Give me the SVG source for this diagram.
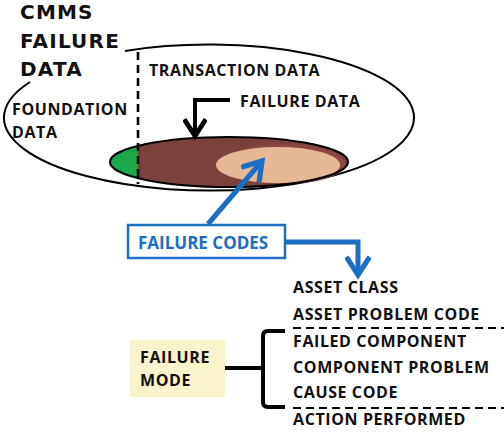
<svg xmlns="http://www.w3.org/2000/svg" width="504" height="434" viewBox="0 0 504 434">
<style>
.t{font-family:"Open Sans","Liberation Sans",sans-serif;font-weight:bold;font-size:16px;letter-spacing:0.6px;fill:#111}
.big{font-family:"DejaVu Sans",sans-serif;font-weight:bold;font-size:20px;fill:#111;letter-spacing:1.2px}
.blue{fill:#1b6ec2}
.k{fill:none;stroke:#000;stroke-width:2}
.dash{fill:none;stroke:#000;stroke-width:2;stroke-dasharray:8 5}
</style>
<defs>
<marker id="hk" viewBox="0 0 10 10" refX="8" refY="5" markerWidth="24" markerHeight="24" markerUnits="userSpaceOnUse" orient="auto">
<path d="M1 0.5 L8 5 L1 9.5" fill="none" stroke="#000" stroke-width="2"/>
</marker>
<marker id="hb" viewBox="0 0 10 10" refX="8" refY="5" markerWidth="26" markerHeight="26" markerUnits="userSpaceOnUse" orient="auto">
<path d="M1 0.5 L8 5 L1 9.5" fill="none" stroke="#1b6ec2" stroke-width="2"/>
</marker>
</defs>
<rect width="504" height="434" fill="#fff"/>
<g id="title">
<text class="big" x="20" y="19">CMMS</text>
<text class="big" x="20" y="48">FAILURE</text>
<text class="big" x="20" y="76">DATA</text>
</g>
<g id="cmms-data">
<path class="k" d="M125 51 A205 73 0 1 1 30 82"/>
<text class="t" x="12" y="115">FOUNDATION</text>
<text class="t" x="12" y="138">DATA</text>
<text class="t" x="149" y="76">TRANSACTION DATA</text>
</g>
<g id="failure-data">
<ellipse cx="229" cy="162" rx="119" ry="25" fill="#7a413d"/>
<path d="M138 146 A119 25 0 0 0 138 178 Z" fill="#1aa84a"/>
<ellipse cx="284" cy="164" rx="61" ry="20" fill="#8e4646"/>
<ellipse cx="278" cy="165" rx="62" ry="18" fill="#e7b896"/>
<ellipse cx="229" cy="162" rx="119" ry="25" class="k"/>
<text class="t" x="240" y="107">FAILURE DATA</text>
</g>
<g id="failure-codes">
<rect x="128" y="225" width="157" height="33" fill="#fff" stroke="#1b6ec2" stroke-width="2.5"/>
<text class="t blue" x="138" y="249" style="font-size:17px;letter-spacing:0">FAILURE CODES</text>
</g>
<g id="code-list">
<text class="t" x="293" y="293">ASSET CLASS</text>
<text class="t" x="293" y="320">ASSET PROBLEM CODE</text>
<text class="t" x="293" y="347">FAILED COMPONENT</text>
<text class="t" x="293" y="373">COMPONENT PROBLEM</text>
<text class="t" x="293" y="398">CAUSE CODE</text>
<text class="t" x="293" y="425">ACTION PERFORMED</text>
</g>
<g id="failure-mode">
<rect x="130" y="340" width="95" height="57" fill="#faf4cc"/>
<text class="t" x="140" y="363">FAILURE</text>
<text class="t" x="140" y="386">MODE</text>
</g>
<g id="connectors">
<line class="dash" x1="138" y1="52" x2="138" y2="184" style="stroke-width:2.6"/>
<polyline points="230,100 195,100 195,136" fill="none" stroke="#000" stroke-width="4" marker-end="url(#hk)"/>
<line x1="208" y1="224" x2="262" y2="161" stroke="#1b6ec2" stroke-width="5" marker-end="url(#hb)"/>
<polyline points="285,242 358,242 358,275" fill="none" stroke="#1b6ec2" stroke-width="5" marker-end="url(#hb)"/>
<line class="dash" x1="293" y1="328" x2="504" y2="328"/>
<line class="dash" x1="293" y1="408" x2="504" y2="408"/>
<path d="M285 331 L268 331 Q263 331 263 336 L263 402 Q263 407 268 407 L285 407 M225 368 L263 368" fill="none" stroke="#000" stroke-width="4"/>
</g>
</svg>
